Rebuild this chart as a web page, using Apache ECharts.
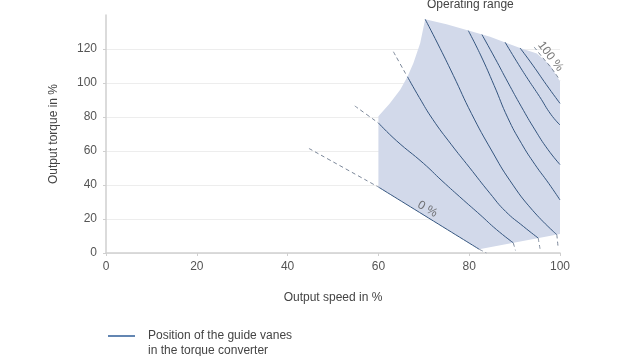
<!DOCTYPE html>
<html>
<head>
<meta charset="utf-8">
<script src="https://cdn.jsdelivr.net/npm/echarts@6/dist/echarts.min.js"></script>
<style>html,body{margin:0;padding:0;background:#fff}#c{width:640px;height:356px}</style>
</head>
<body>
<div id="c"></div>
<script>
// ---- data ----
const regionBoundary = [[60,38.8],[60,80.5],[62.5,88],[64.8,96],[66.4,103.7],[67.7,111.6],[69.2,123.4],[70.3,137.5],
  [75,134.5],[80.2,130.6],[84.6,127.2],[87.5,124.3],[91.2,120.6],[94.9,117.3],[97.8,110.6],[98.9,105.7],[100,101],
  [100,11.2],[82.2,2.2]];

const vane0   = [[60,38.8],[82.2,2.2]];
const vane1   = [[60,76.5],[64,66],[69.9,52.8],[74,42.5],[78.7,31.2],[82.4,22.5],[86,13.8],[89.7,6]];
const vane2   = [[66.4,103.7],[69,91.5],[72,78.5],[76,64],[80,50.5],[84.6,35],[88,24.5],[92,15.5],[95.2,8.8]];
const vane3   = [[70.3,137.5],[73,123.5],[76.5,104.5],[80.5,82],[85,60],[89,42.5],[94,25],[99.3,10.8]];
const vane4   = [[79.8,130.8],[82.5,116.5],[85.5,98.5],[88.5,79.5],[91.5,64.5],[94.5,52],[97.5,41],[100,31.2]];
const vane5   = [[82.8,128.5],[85.7,114.5],[88.5,100.5],[91.5,86],[94.5,72.4],[97.3,61],[100,52]];
const vane6   = [[87.9,124],[90.5,112.5],[93,102],[95.5,92],[98,81.5],[100,75.3]];
const vane7   = [[91.2,120.6],[94,110.5],[97,99],[100,88]];

const dash0Head = [[44.7,61.5],[60,38.8]];
const dash0Tail = [[82.2,2.2],[83.8,0]];
const dash1Head = [[54.8,86.5],[60,76.5]];
const dash1Tail = [[89.7,6],[90.2,1.5]];
const dash2Head = [[63.3,118.4],[66.1,105]];
const dash2Tail = [[95.2,8.8],[95.6,2.5]];
const dash3Tail = [[99.3,10.8],[99.6,3]];
const dash100   = [[94.3,121.2],[96,115.5],[97.8,109.8],[99,105.5],[100,101.5]];

const pctLabels = [[70.8,25.8,'0 %',-31],[97.9,115.6,'100 %',-52]];

const legendName = 'Position of the guide vanes\nin the torque converter';

// ---- styles ----
const FONT = "'Helvetica Neue', Helvetica, Arial, 'Liberation Sans', sans-serif";
const LINE_COLOR = '#34557f';
const DASH_COLOR = '#7b8799';

function vane(data) {
  return { name: legendName, type: 'line', data: data, smooth: 0.5, symbol: 'none', silent: true, z: 3,
    lineStyle: { color: LINE_COLOR, width: 1 }, itemStyle: { color: LINE_COLOR } };
}
function dashed(data) {
  return { type: 'line', data: data, symbol: 'none', silent: true, z: 3, smooth: 0.3,
    lineStyle: { color: DASH_COLOR, width: 1, type: [4, 3] } };
}

const chart = echarts.init(document.getElementById('c'), null, { renderer: 'canvas' });
chart.setOption({
  animation: false,
  textStyle: { fontFamily: FONT },
  grid: { left: 106, right: 80, top: 15, bottom: 103, containLabel: false },
  xAxis: {
    type: 'value', min: 0, max: 100, interval: 20,
    name: 'Output speed in %', nameLocation: 'middle', nameGap: 39,
    nameTextStyle: { color: '#444', fontSize: 12, fontFamily: FONT },
    axisLine: { show: true, lineStyle: { color: '#cfcfcf', width: 1.5 } },
    axisTick: { show: true, length: 3, lineStyle: { color: '#cfcfcf' } },
    axisLabel: { color: '#555', fontSize: 12, margin: 8, fontFamily: FONT },
    splitLine: { show: false }
  },
  yAxis: {
    type: 'value', min: 0, max: 140, interval: 20,
    name: 'Output torque in %', nameLocation: 'middle', nameGap: 46, nameRotate: 90,
    nameTextStyle: { color: '#444', fontSize: 12, fontFamily: FONT },
    axisLine: { show: true, lineStyle: { color: '#cfcfcf', width: 1.5 } },
    axisTick: { show: true, length: 3, lineStyle: { color: '#cfcfcf' } },
    axisLabel: { color: '#555', fontSize: 12, margin: 9, showMaxLabel: false, fontFamily: FONT },
    splitLine: { show: true, lineStyle: { width: 1,
      color: ['#ededed','#ededed','#ededed','#ededed','#ededed','#ededed','#ededed','rgba(0,0,0,0)'] } }
  },
  legend: {
    left: 108, top: 313.5, padding: 0,
    data: [{ name: legendName, icon: 'rect', itemStyle: { color: '#2f5e99' } }],
    itemWidth: 27, itemHeight: 1.5,
    formatter: function (n) { return '\n' + n; },
    textStyle: { color: '#444', fontSize: 12, lineHeight: 15, fontFamily: FONT, padding: [0,0,0,8] },
    selectedMode: false
  },
  graphic: [{
    type: 'text', left: 427, top: -1,
    style: { text: 'Operating range', fill: '#444', font: "12px " + FONT }
  }],
  series: [
    {
      type: 'custom', silent: true, z: 1,
      data: [0],
      renderItem: function (params, api) {
        const pts = regionBoundary.map(function (p) { return api.coord(p); });
        return { type: 'polygon', shape: { points: pts }, style: { fill: '#d2d9ea' } };
      }
    },
    vane(vane0), vane(vane1), vane(vane2), vane(vane3), vane(vane4), vane(vane5), vane(vane6), vane(vane7),
    dashed(dash0Head), dashed(dash0Tail), dashed(dash1Head), dashed(dash1Tail),
    dashed(dash2Head), dashed(dash2Tail), dashed(dash3Tail), dashed(dash100),
    {
      type: 'scatter', silent: true, z: 5, symbolSize: 0,
      data: pctLabels.map(function (d) {
        return { value: [d[0], d[1]], label: { show: true, formatter: d[2], rotate: d[3], position: 'inside',
          color: '#555', fontSize: 12, fontFamily: FONT } };
      })
    }
  ]
});
</script>
</body>
</html>
